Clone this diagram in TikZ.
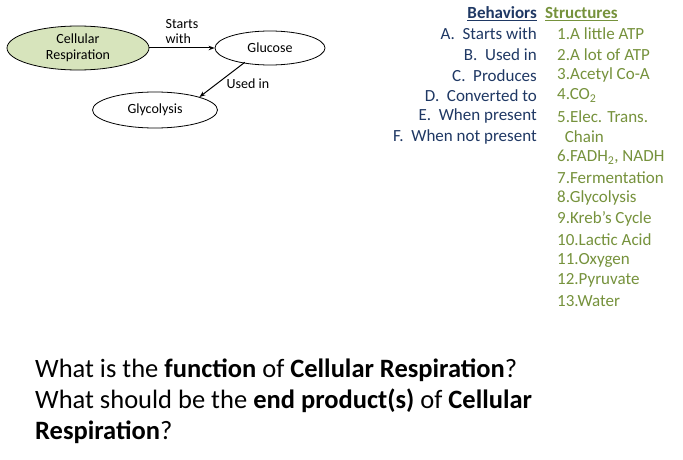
\documentclass[tikz,border=0pt]{standalone}
\usepackage{fontspec}
\setmainfont{Carlito}
\usetikzlibrary{shapes.geometric,arrows.meta}
\definecolor{beh}{HTML}{1F3864}
\definecolor{str}{HTML}{76923C}
\definecolor{crfill}{HTML}{D7E4BC}
\begin{document}
\begin{tikzpicture}[x=1pt,y=-1pt,
  ell/.style={ellipse,draw,line width=0.8pt,inner sep=0pt,font=\fontsize{14}{16}\selectfont,align=center},
  lbl/.style={font=\fontsize{14}{15}\selectfont,align=left},
  arr/.style={-{Stealth[length=6pt]},line width=1pt},
  bh/.style={anchor=east,text=beh,font=\fontsize{17}{19}\selectfont,inner sep=0pt},
  st/.style={anchor=west,text=str,font=\fontsize{17}{19}\selectfont,inner sep=0pt},
  q/.style={anchor=west,font=\fontsize{26.5}{30}\selectfont,inner sep=0pt}]
\useasboundingbox[fill=white] (0,0) rectangle (683,460);
\node[ell,fill=crfill,minimum width=142pt,minimum height=44pt] (cr) at (78,48) {Cellular\\Respiration};
\node[ell,fill=white,minimum width=110pt,minimum height=34pt] (gl) at (270,48) {Glucose};
\node[ell,fill=white,minimum width=125pt,minimum height=36pt] (gy) at (155,110) {Glycolysis};
\draw[arr] (cr.east) -- (gl.west) node[lbl,midway,above=1pt] (l1) {Starts\\with};
\draw[arr] (gl.south west)++(14,2) coordinate (g0) -- (gy.north east);
\node[lbl] (l2) at (248,84) {Used in};
\node[bh,anchor=east] (bh) at (537,14) {\bfseries\underline{Behaviors}};
\node[st,text=str] (sh) at (545,14) {\bfseries\underline{Structures}};
\foreach \t [count=\i] in {A.\ \ Starts with,B.\ \ Used in,C.\ \ Produces,D.\ \ Converted to,E.\ \ When present,F.\ \ When not present}
  \node[bh] (b\i) at (537,{34+20.6*(\i-1)}) {\t};
\foreach \t [count=\i] in {1.A little ATP,2.A lot of ATP,3.Acetyl Co-A,4.CO\textsubscript{2},5.Elec. Trans.,\ \ Chain,6.FADH\textsubscript{2}{,} NADH,7.Fermentation,8.Glycolysis,9.Kreb’s Cycle,10.Lactic Acid,11.Oxygen,12.Pyruvate,13.Water}
  \node[st] (s\i) at (557,{34+20.55*(\i-1)}) {\t};
\node[q] (q1) at (35,370) {What is the \textbf{function} of \textbf{Cellular Respiration}?};
\node[q] (q2) at (35,401) {What should be the \textbf{end product(s)} of \textbf{Cellular}};
\node[q] (q3) at (35,432) {\textbf{Respiration}?};
\end{tikzpicture}
\end{document}
